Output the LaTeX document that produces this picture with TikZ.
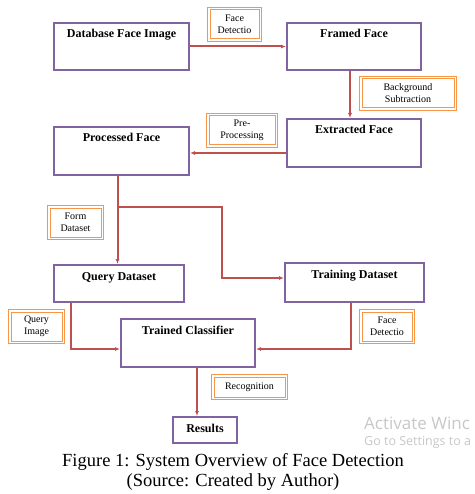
\documentclass[tikz,border=0pt]{standalone}
\usepackage{fontspec}
\setmainfont{Liberation Serif}
\newfontfamily\winfont{Open Sans}
\usetikzlibrary{arrows.meta}

\definecolor{boxpurple}{RGB}{128,100,162}
\definecolor{flowred}{RGB}{192,80,77}
\definecolor{tagorange}{RGB}{247,150,70}

\tikzset{
  stagebox/.style={draw=boxpurple, line width=2pt, inner xsep=0pt, inner ysep=4pt,
    text height=11pt, font=\bfseries\fontsize{12}{14}\selectfont},
  tagbox/.style={draw=tagorange, line width=1pt,
    inner sep=0pt, align=center, font=\fontsize{10}{12}\selectfont,
    append after command={\pgfextra{\draw[tagorange, line width=1pt]
      ([shift={(3pt,-3pt)}]\tikzlastnode.north west) rectangle
      ([shift={(-3pt,3pt)}]\tikzlastnode.south east);}}},
  flow/.style={draw=flowred, line width=2pt, -{Latex[length=5pt,width=4pt]}}
}

\begin{document}
\begin{tikzpicture}[x=1pt,y=-1pt]
	\useasboundingbox (0,0) rectangle (474,494);
	% main stages
	\node[stagebox, minimum width=135pt, text depth=28pt] (db) at (121.5,46.5) {Database Face Image};
	\node[stagebox, minimum width=134pt, text depth=28pt] (fr) at (354,46.5) {Framed Face};
	\node[stagebox, minimum width=134pt, text depth=29pt] (ex) at (354,143) {Extracted Face};
	\node[stagebox, minimum width=135pt, text depth=29pt] (pr) at (121.5,151) {Processed Face};
	\node[stagebox, minimum width=130pt, text depth=18pt] (qu) at (119,283.5) {Query Dataset};
	\node[stagebox, minimum width=139pt, text depth=20pt] (tr) at (354.5,282.5) {Training Dataset};
	\node[stagebox, minimum width=134pt, text depth=29pt] (tc) at (188,343) {Trained Classifier};
	\node[stagebox, minimum width=64pt, text depth=7pt] (res) at (205,430) {Results};

	% step tags
	\node[tagbox, minimum width=54pt, minimum height=34pt] (fdA) at (234.5,24.5) {Face\\Detectio};
	\node[tagbox, minimum width=97pt, minimum height=34pt] (bgs) at (408,93.5) {Background\\Subtraction};
	\node[tagbox, minimum width=71pt, minimum height=34pt] (pre) at (242,130.5) {Pre-\\Processing};
	\node[tagbox, minimum width=56pt, minimum height=34pt] (fds) at (75.5,222.5) {Form\\Dataset};
	\node[tagbox, minimum width=56pt, minimum height=34pt] (qim) at (36.5,326.5) {Query\\Image};
	\node[tagbox, minimum width=55pt, minimum height=34pt] (fdB) at (387,326.5) {Face\\Detectio};
	\node[tagbox, minimum width=76pt, minimum height=25pt] (rec) at (249.5,387) {Recognition};

	% connectors
	\draw[flow] (db) -- (fr);
	\draw[flow] ([xshift=-4pt]fr.south) -- ([xshift=-4pt]fr.south |- ex.north);
	\draw[flow] ([yshift=-10pt]ex.west) -- ([yshift=-10pt]ex.west -| pr.east);
	\coordinate (split) at ([xshift=-4pt]pr.south |- 0,207);
	\draw[flow] ([xshift=-4pt]pr.south) -- ([xshift=-4pt]pr.south |- qu.north);
	\draw[flow] (split) -- ++(104pt,0) |- ([yshift=4.5pt]tr.west);
	\draw[flow] ([xshift=-48pt]qu.south) |- ([yshift=-6pt]tc.west);
	\draw[flow] ([xshift=-3.5pt]tr.south) |- ([yshift=-6pt]tc.east);
	\draw[flow] ([xshift=9pt]tc.south) -- ([xshift=9pt]tc.south |- res.north);

	% caption
	\node[font=\fontsize{18.5}{20}\selectfont, align=center, anchor=north, inner sep=0pt] (cap) at (233,453)
		{Figure 1: System Overview of Face Detection\\(Source: Created by Author)};

	% screen watermark
	\node[text=black!22, font=\winfont\fontsize{17}{19}\selectfont, anchor=west, inner sep=0pt] (wmA) at (364,423) {Activate Winc};
	\node[text=black!22, font=\winfont\fontsize{12.5}{14}\selectfont, anchor=west, inner sep=0pt] (wmB) at (364,442) {Go to Settings to a};
\end{tikzpicture}
\end{document}
